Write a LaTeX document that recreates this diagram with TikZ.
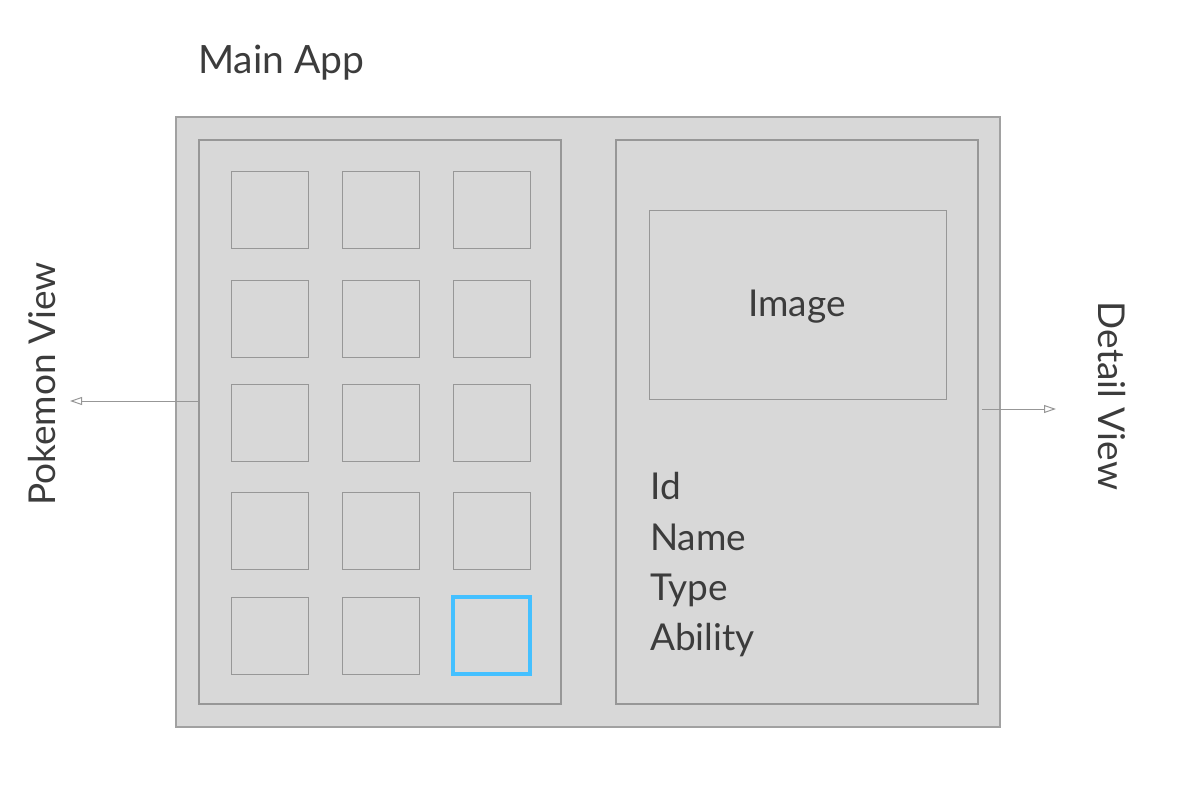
\documentclass[tikz,border=0pt]{standalone}
\usepackage{fontspec}
\setmainfont{Lato}
\usetikzlibrary{arrows.meta}
\definecolor{boxfill}{HTML}{D8D8D8}
\definecolor{boxline}{HTML}{979797}
\definecolor{txt}{HTML}{3C3C3C}
\definecolor{sel}{HTML}{44C0FF}
\begin{document}
\begin{tikzpicture}[x=1pt,y=-1pt,
  panel/.style={draw=boxline,fill=boxfill,line width=1.2pt},
  cell/.style={draw=boxline,fill=boxfill,line width=0.9pt},
  selcell/.style={draw=sel,fill=boxfill,line width=3.4pt},
  lbl/.style={text=txt,font=\fontsize{37}{40}\selectfont,inner sep=0pt},
  conn/.style={draw=boxline,line width=1pt,-{Triangle[open,length=12pt,width=8pt]}}]
\useasboundingbox (0,0) rectangle (1200,794);
\node[lbl,anchor=base west] (title) at (198,74) {\fontsize{39}{40}\selectfont Main App};
\draw[panel,line width=1.6pt,draw=boxline!90] (176,117) rectangle (1000,727);
\draw[panel] (199,140) rectangle (561,704);
\coordinate (pl) at (199,401);
\draw[panel] (616,140) rectangle (978,704);
\coordinate (pr) at (982,409);
% grid
\foreach \c/\x in {1/231,2/342,3/453}{
  \foreach \r/\y in {1/171,2/280,3/384,4/492}{
    \draw[cell] (\x,\y) rectangle ++(77,77);
  }
}
\draw[cell] (231,597) rectangle ++(77,77);
\draw[cell] (342,597) rectangle ++(77,77);
\draw[selcell] (453,597) rectangle ++(77,77);
% image
\node[cell,minimum width=297pt,minimum height=189pt,anchor=north west] (img) at (649,210) {};
\node[lbl] (imgt) at (797,307) {Image};
\node[lbl,anchor=base west] (id) at (650,499) {Id};
\node[lbl,anchor=base west] (name) at (650,550) {Name};
\node[lbl,anchor=base west] (type) at (650,600) {Type};
\node[lbl,anchor=base west] (abil) at (650,650) {Ability};
% side labels
\node[lbl,rotate=90] (pv) at (42,384) {Pokemon View};
\node[lbl,rotate=-90] (dv) at (1112,396) {Detail View};
\coordinate (pvend) at (70,401);
\coordinate (dvend) at (1056,409);
\draw[conn] (pl) -- (pvend);
\draw[conn] (pr) -- (dvend);
\end{tikzpicture}
\end{document}
